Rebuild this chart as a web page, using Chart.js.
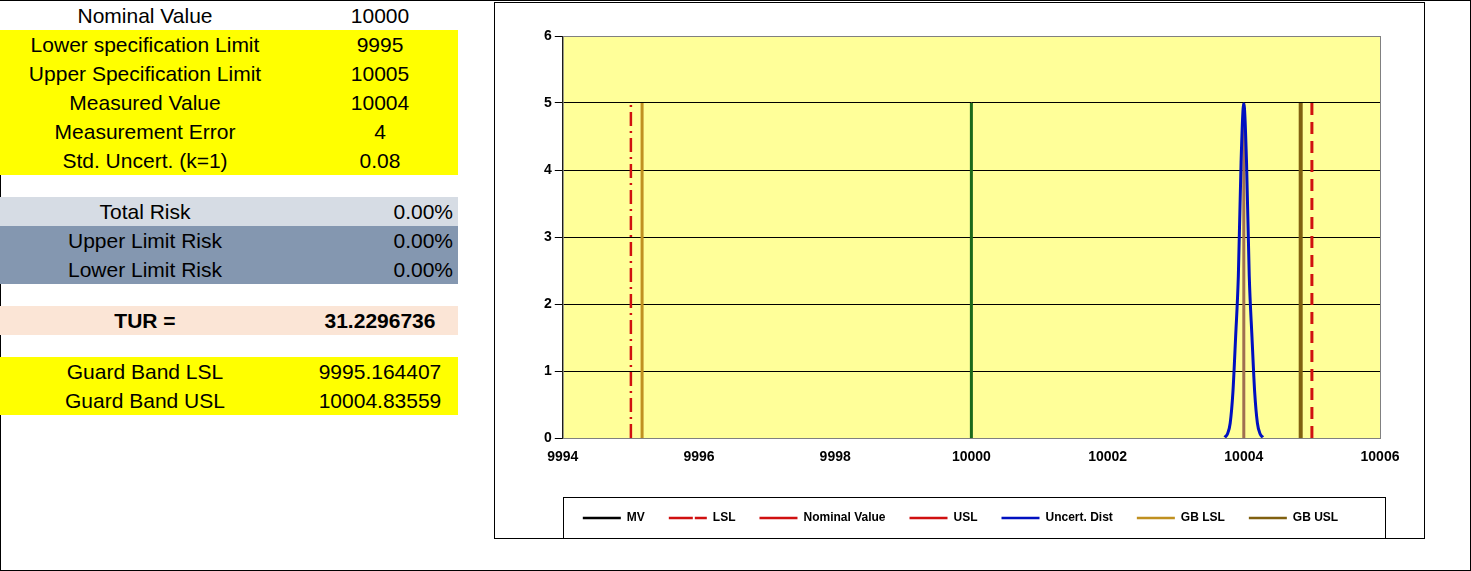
<!DOCTYPE html>
<html><head><meta charset="utf-8">
<script src="https://cdn.jsdelivr.net/npm/chart.js@4"></script>
<style>
body{margin:0;width:1471px;height:571px;position:relative;font-family:"Liberation Sans",Arial,sans-serif;background:#fff;overflow:hidden}
#frame{position:absolute;left:0;top:0;width:1469px;height:569px;border:1px solid #000}
.row{position:absolute;left:0;width:458px;height:29px;font-size:21px;line-height:30px}
.row .l{position:absolute;left:0;width:290px;text-align:center}
.row .v{position:absolute;left:290px;width:180px;text-align:center}
.row .r{position:absolute;right:5px;text-align:right}
#box{position:absolute;left:494px;top:2px;width:929px;height:535px;border:1px solid #000}
</style></head><body>
<div id="frame"></div>
<div id="tbl"></div>
<div id="box"><canvas id="c" width="929" height="535"></canvas></div>
<script>
const tableLabels=["Nominal Value","Lower specification Limit","Upper Specification Limit","Measured Value","Measurement Error","Std. Uncert. (k=1)"];
const tableValues=["10000","9995","10005","10004","4","0.08"];
const riskLabels=["Total Risk","Upper Limit Risk","Lower Limit Risk"];
const riskValues=["0.00%","0.00%","0.00%"];
const turLabel="TUR =", turValue="31.2296736";
const gbLabels=["Guard Band LSL","Guard Band USL"];
const gbValues=["9995.164407","10004.83559"];

const lineX={MV:10004,LSL:9995,NV:10000,USL:10005,GBLSL:9995.164407,GBUSL:10004.83559};
const lineTop=5;
const distX=[10003.72,10003.76,10003.80,10003.84,10003.88,10003.92,10003.96,10004.00,10004.04,10004.08,10004.12,10004.16,10004.20,10004.24,10004.28];
const distY=[0.01,0.06,0.22,0.68,1.51,2.42,4.12,4.99,4.12,2.42,1.51,0.68,0.22,0.06,0.01];

const tbl=document.getElementById('tbl');
function row(top,l,v,bg,right,bold){
  const d=document.createElement('div');d.className='row';d.style.top=top+'px';d.style.background=bg;
  if(bold)d.style.fontWeight='bold';
  d.innerHTML='<span class="l">'+l+'</span>'+(right?'<span class="r">'+v+'</span>':'<span class="v">'+v+'</span>');
  tbl.appendChild(d);
}
tableLabels.forEach((l,i)=>row(1+i*29,l,tableValues[i],i==0?'#fff':'#ffff00'));
riskLabels.forEach((l,i)=>row(197+i*29,l,riskValues[i],i==0?'#d6dce4':'#8497b0',true));
row(306,turLabel,turValue,'#fbe5d6',false,true);
gbLabels.forEach((l,i)=>row(357+i*29,l,gbValues[i],'#ffff00'));

const vline=(x)=>[{x:x,y:0},{x:x,y:lineTop}];
const legendColors={"MV":"#000","LSL":"#d01010","Nominal Value":"#d01010","USL":"#d01010","Uncert. Dist":"#0010c0","GB LSL":"#c09020","GB USL":"#806010"};
const ds=[
 {label:"MV",data:vline(lineX.MV),borderColor:"#a07050",borderWidth:3,order:2},
 {label:"LSL",data:vline(lineX.LSL),borderColor:"#d01010",borderWidth:2.5,borderDash:[14,5,2,5]},
 {label:"Nominal Value",data:vline(lineX.NV),borderColor:"#1a6a1a",borderWidth:3},
 {label:"USL",data:vline(lineX.USL),borderColor:"#d01010",borderWidth:3,borderDash:[12,7]},
 {label:"Uncert. Dist",data:distX.map((x,i)=>({x:x,y:distY[i]})),borderColor:"#0010c0",borderWidth:3,tension:0.4,cubicInterpolationMode:'monotone',order:1},
 {label:"GB LSL",data:vline(lineX.GBLSL),borderColor:"#c09020",borderWidth:3},
 {label:"GB USL",data:vline(lineX.GBUSL),borderColor:"#806010",borderWidth:4}
];
ds.forEach(d=>{d.pointRadius=0;d.fill=false;d.backgroundColor=d.borderColor;});

const plotBg={id:'bg',beforeDraw(c){const a=c.chartArea,x=c.ctx;x.save();x.fillStyle='#ffff99';x.fillRect(a.left,a.top,a.right-a.left,a.bottom-a.top);x.restore();},
 afterDraw(c){const x=c.ctx,a=c.chartArea;x.save();x.strokeStyle='#808080';x.lineWidth=1;x.strokeRect(a.left+0.5,a.top+0.5,a.right-a.left,a.bottom-a.top);
  x.strokeStyle='#000';x.strokeRect(68.5,494.5,822,41);x.restore();}};

new Chart(document.getElementById('c'),{type:'line',data:{datasets:ds},
 options:{responsive:false,animation:false,
  layout:{padding:{left:46,right:44,top:33,bottom:4}},
  plugins:{legend:{position:'bottom',labels:{font:{family:'Liberation Sans Narrow, Liberation Sans',size:12,weight:'bold'},color:'#000',boxWidth:38,boxHeight:0,padding:24,
    generateLabels(ch){return ch.data.datasets.map((d,i)=>({text:d.label,strokeStyle:legendColors[d.label],fillStyle:legendColors[d.label],lineWidth:2.5,lineDash:d.borderDash||[],datasetIndex:i,fontColor:'#000'}));}}},
   tooltip:{enabled:false}},
  scales:{x:{type:'linear',min:9994,max:10006,ticks:{stepSize:2,color:'#000',font:{family:'Liberation Sans',size:14,weight:'bold'},callback:v=>String(v)},grid:{display:false,drawTicks:true,tickColor:'#000'},border:{color:'#000'},afterFit(s){s.height=50;}},
   y:{min:0,max:6,ticks:{stepSize:1,color:'#000',font:{family:'Liberation Sans',size:14,weight:'bold'}},grid:{color:'#000',tickColor:'#000'},border:{color:'#000'}}}},
 plugins:[plotBg]});
</script></body></html>
